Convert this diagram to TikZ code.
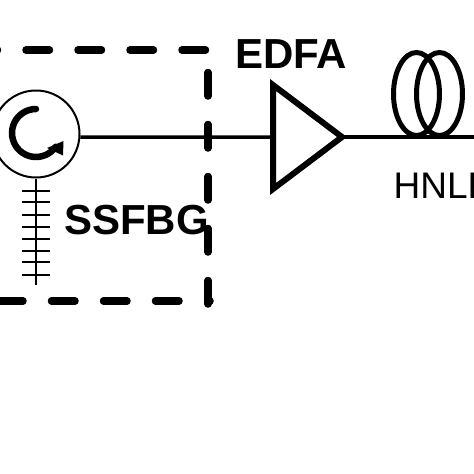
\documentclass[tikz,border=0pt]{standalone}
\usepackage{fontspec}
\setmainfont{Liberation Sans}
\begin{document}
\begin{tikzpicture}[x=1pt,y=-1pt,
  fibre/.style={line width=3.5pt},
  boxdash/.style={line width=7.5pt,line cap=round,dash pattern=on 23.5pt off 28.5pt},
  tick/.style={line width=2pt},
  boldlabel/.style={anchor=base west,inner sep=0pt,font=\fontsize{42}{42}\selectfont\bfseries},
  thinlabel/.style={anchor=base west,inner sep=0pt,font=\fontsize{37}{37}\selectfont},
  circulator/.style={circle,draw,line width=2pt,minimum size=87pt,inner sep=0pt}]
\useasboundingbox (0,0) rectangle (474,474);
% dashed box
\coordinate (tl) at (-26,50); \coordinate (tr) at (209,50);
\coordinate (rt) at (208,72.5); \coordinate (rb) at (208,310);
\coordinate (bl) at (-0.5,301); \coordinate (br) at (210,301);
\draw[boxdash] (tl) ++(52,0) -- (tr);
\draw[boxdash] (-26,50) -- (2,50);
\draw[boxdash] (rt) -- (rb);
\draw[boxdash] (bl) -- (br);
% main elements
\node[circulator] (circ) at (36,134) {};
\coordinate (ampin) at (273,137);
\coordinate (amptip) at (342,137);
\coordinate (ampup) at (273,85);
\coordinate (ampdown) at (273,189);
\coordinate (out) at (474,137);
\coordinate (gratend) at (36,285);
\draw[fibre] (circ.-4) -- (ampin);
\draw[fibre] (amptip) -- (out);
\draw[line width=6pt,miter limit=10] (ampup) -- (amptip) -- (ampdown) -- cycle;
\draw[line width=2.5pt] (circ.south) -- (gratend);
\foreach \yy in {191,202,215,227,239,251,262,275}
  \draw[tick] (22,\yy) -- (50,\yy);
% circulator arrow
\draw[line width=6.5pt,line cap=round] plot[smooth,domain=-90:-325,samples=30] ({36+24*cos(\x)},{133+24*sin(\x)});
\fill (47,148) -- (63.5,141) -- (63,155.5) -- cycle;
% coil
\draw[line width=5pt] (416.5,94) ellipse [x radius=23,y radius=41.5];
\draw[line width=5pt] (439.5,94) ellipse [x radius=23,y radius=41.5];
% labels
\node[boldlabel] (edfa) at (235,68) {EDFA};
\node[boldlabel] (ssfbg) at (64,234) {SSFBG};
\node[thinlabel] (hnlf) at (393.5,198) {HNLF};
\end{tikzpicture}
\end{document}
